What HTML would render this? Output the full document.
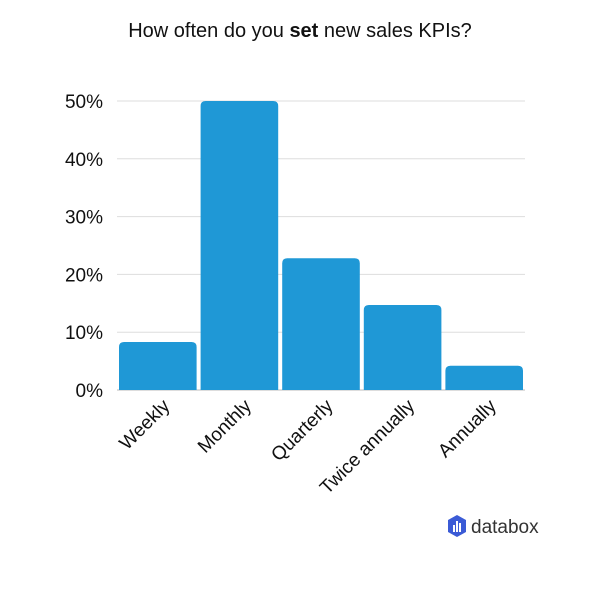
<!DOCTYPE html>
<html><head><meta charset="utf-8"><style>
body{margin:0;background:#fff;width:600px;height:600px;overflow:hidden}
svg text{font-family:"Liberation Sans",sans-serif}
</style></head><body>
<svg id="chart" width="600" height="600" viewBox="0 0 600 600" xmlns="http://www.w3.org/2000/svg">
<text x="300" y="37" text-anchor="middle" font-size="20" fill="#111">How often do you <tspan font-weight="bold">set</tspan> new sales KPIs?</text>
<g id="grid"></g><g id="bars"></g><g id="labels"></g>
<g transform="translate(448,515)">
<polygon points="9,0 18,5 18,17 9,22 0,17 0,5" fill="#3b5bd6"/>
<rect x="5" y="10" width="2" height="7" fill="#fff"/><rect x="8" y="6" width="2" height="11" fill="#fff"/><rect x="11" y="8" width="2" height="9" fill="#fff"/>
<text x="23" y="18" font-size="19" fill="#333">databox</text>
</g>
</svg>
<script>
const categories=["Weekly","Monthly","Quarterly","Twice annually","Annually"];
const values=[8.3,50,22.8,14.7,4.2];
const ticks=[0,10,20,30,40,50];
const ns="http://www.w3.org/2000/svg";
const x0=117,x1=525,yBase=390,yTop=101,maxV=50;
const y=v=>yBase-(v/maxV)*(yBase-yTop);
const band=(x1-x0)/categories.length;
const grid=document.getElementById('grid'),bars=document.getElementById('bars'),labels=document.getElementById('labels');
ticks.forEach(t=>{
 const l=document.createElementNS(ns,'line');
 
 
 l.setAttribute('x1',x0);l.setAttribute('x2',x1);l.setAttribute('y1',y(t));l.setAttribute('y2',y(t));
 l.setAttribute('stroke',t===0?'#bbb':'#ddd');l.setAttribute('stroke-width','1');
 grid.appendChild(l);
 const tx=document.createElementNS(ns,'text');
 
 
 tx.setAttribute('x',103);tx.setAttribute('y',y(t)+7);tx.setAttribute('text-anchor','end');
 tx.setAttribute('font-size','19');tx.setAttribute('fill','#111');tx.textContent=t+'%';
 labels.appendChild(tx);
});
categories.forEach((c,i)=>{
 const bx=x0+i*band+2,bw=band-4,top=y(values[i]),r=5;
 const p=document.createElementNS(ns,'path');
 
 
 p.setAttribute('d',`M${bx},${yBase}V${top+r}Q${bx},${top} ${bx+r},${top}H${bx+bw-r}Q${bx+bw},${top} ${bx+bw},${top+r}V${yBase}Z`);
 p.setAttribute('fill','#1f98d6');
 bars.appendChild(p);
 const cx=bx+bw/2+13;
 const tx=document.createElementNS(ns,'text');
 
 
 tx.setAttribute('x',cx);tx.setAttribute('y',407);tx.setAttribute('text-anchor','end');
 tx.setAttribute('transform',`rotate(-45 ${cx} 407)`);
 tx.setAttribute('font-size','19');tx.setAttribute('fill','#111');tx.textContent=c;
 labels.appendChild(tx);
});
</script>
</body></html>
